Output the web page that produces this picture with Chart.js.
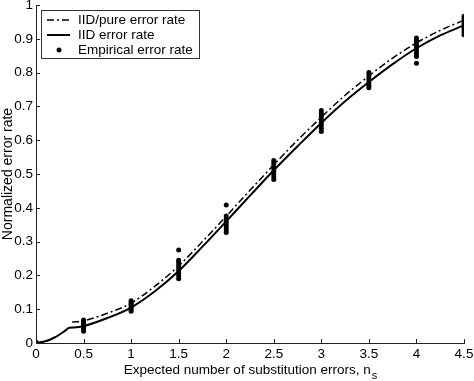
<!DOCTYPE html>
<html>
<head>
<meta charset="utf-8">
<script src="https://cdn.jsdelivr.net/npm/chart.js@4.4.1/dist/chart.umd.min.js"></script>
<style>
  html, body { margin: 0; padding: 0; background: #fff; }
  #wrap { width: 474px; height: 381px; }
</style>
</head>
<body>
<div id="wrap"><canvas id="errChart"></canvas></div>
<script>
// x positions for the two model curves
const iidX = [0, 0.1, 0.2, 0.3, 0.35, 0.4, 0.5, 0.75, 1, 1.25, 1.5, 1.75, 2, 2.25, 2.5, 2.75, 3, 3.25, 3.5, 3.75, 4, 4.25, 4.5];
const iidRate = [0, 0.005, 0.017, 0.035, 0.045, 0.046, 0.05, 0.074, 0.105, 0.153, 0.213, 0.285, 0.36, 0.436, 0.511, 0.582, 0.651, 0.715, 0.772, 0.825, 0.872, 0.91, 0.94];

const pureX = [0.38, 0.5, 0.75, 1, 1.25, 1.5, 1.75, 2, 2.25, 2.5, 2.75, 3, 3.25, 3.5, 3.75, 4, 4.25, 4.5];
const pureRate = [0.062, 0.066, 0.088, 0.118, 0.168, 0.228, 0.3, 0.375, 0.452, 0.527, 0.6, 0.668, 0.733, 0.79, 0.843, 0.888, 0.925, 0.955];

// empirical runs, grouped by expected number of errors
const empX = [0, 0.5, 1, 1.5, 2, 2.5, 3, 3.5, 4, 4.5];
const empRates = [
    [0, 0.003],
    [0.035, 0.042, 0.048, 0.053, 0.058, 0.063, 0.068],
    [0.094, 0.1, 0.105, 0.11, 0.115, 0.12, 0.125],
    [0.19, 0.198, 0.206, 0.214, 0.222, 0.23, 0.238, 0.245, 0.275],
    [0.327, 0.335, 0.343, 0.351, 0.359, 0.367, 0.376, 0.408],
    [0.484, 0.492, 0.5, 0.508, 0.516, 0.524, 0.532, 0.54],
    [0.626, 0.635, 0.644, 0.653, 0.662, 0.671, 0.68, 0.688],
    [0.755, 0.762, 0.77, 0.778, 0.785, 0.793, 0.8],
    [0.828, 0.848, 0.856, 0.864, 0.872, 0.88, 0.888, 0.895, 0.902],
    [0.912, 0.92, 0.928, 0.936, 0.944, 0.952, 0.96, 0.967]
];

const xTicks = [0, 0.5, 1, 1.5, 2, 2.5, 3, 3.5, 4, 4.5];
const yTicks = [0, 0.1, 0.2, 0.3, 0.4, 0.5, 0.6, 0.7, 0.8, 0.9, 1];

const FONT = 'Liberation Sans, Arial, Helvetica, sans-serif';
const DASHDOT = [7, 3, 2, 3];

const iidPoints = iidX.map((x, i) => ({ x: x, y: iidRate[i] }));
const purePoints = pureX.map((x, i) => ({ x: x, y: pureRate[i] }));
const empPoints = [];
empX.forEach((x, i) => {
    empRates[i].forEach(y => empPoints.push({ x: x, y: y }));
});

// inward tick marks on the left and bottom axes
const innerTicks = {
    id: 'innerTicks',
    afterDatasetsDraw(chart) {
        const { ctx, chartArea, scales } = chart;
        ctx.save();
        ctx.strokeStyle = '#222';
        ctx.lineWidth = 1;
        ctx.beginPath();
        xTicks.forEach(v => {
            const px = Math.round(scales.x.getPixelForValue(v)) + 0.5;
            ctx.moveTo(px, chartArea.bottom);
            ctx.lineTo(px, chartArea.bottom - 4);
        });
        yTicks.forEach(v => {
            const py = Math.round(scales.y.getPixelForValue(v)) + 0.5;
            ctx.moveTo(chartArea.left, py);
            ctx.lineTo(chartArea.left + 4, py);
        });
        ctx.stroke();
        ctx.restore();
    }
};

// x title with subscript, boxed legend
const extras = {
    id: 'extras',
    afterDraw(chart) {
        const { ctx, chartArea } = chart;
        ctx.save();
        ctx.fillStyle = '#000';
        ctx.textBaseline = 'alphabetic';

        // x axis title
        ctx.font = '13.5px ' + FONT;
        const main = 'Expected number of substitution errors, n';
        const w = ctx.measureText(main).width;
        ctx.font = '11px ' + FONT;
        const sw = ctx.measureText('s').width;
        const cx = (chartArea.left + chartArea.right) / 2;
        const startX = cx - (w + sw) / 2;
        ctx.font = '13.5px ' + FONT;
        ctx.textAlign = 'left';
        ctx.fillText(main, startX, 374);
        ctx.font = '11px ' + FONT;
        ctx.fillText('s', startX + w + 1, 379);

        // legend
        const bx = 41, by = 10, bw = 158, bh = 48;
        ctx.fillStyle = '#fff';
        ctx.fillRect(bx, by, bw, bh);
        ctx.strokeStyle = '#333';
        ctx.lineWidth = 1;
        ctx.strokeRect(bx + 0.5, by + 0.5, bw, bh);

        const rows = [20, 35, 50];
        ctx.strokeStyle = '#000';
        ctx.lineWidth = 1.5;
        ctx.setLineDash(DASHDOT);
        ctx.beginPath();
        ctx.moveTo(47, rows[0]);
        ctx.lineTo(70, rows[0]);
        ctx.stroke();
        ctx.setLineDash([]);
        ctx.lineWidth = 2;
        ctx.beginPath();
        ctx.moveTo(47, rows[1]);
        ctx.lineTo(70, rows[1]);
        ctx.stroke();
        ctx.fillStyle = '#000';
        ctx.beginPath();
        ctx.arc(59, rows[2], 2.5, 0, Math.PI * 2);
        ctx.fill();

        ctx.font = '13.5px ' + FONT;
        ctx.textBaseline = 'middle';
        ctx.fillText('IID/pure error rate', 78, rows[0]);
        ctx.fillText('IID error rate', 78, rows[1]);
        ctx.fillText('Empirical error rate', 78, rows[2]);
        ctx.restore();
    }
};

const ctx = document.getElementById('errChart').getContext('2d');
new Chart(ctx, {
    type: 'line',
    data: {
        datasets: [
            {
                label: 'IID/pure error rate',
                data: purePoints,
                borderColor: '#000',
                borderWidth: 1.5,
                borderDash: DASHDOT,
                pointRadius: 0,
                cubicInterpolationMode: 'monotone',
                fill: false
            },
            {
                label: 'IID error rate',
                data: iidPoints,
                borderColor: '#000',
                borderWidth: 2,
                pointRadius: 0,
                cubicInterpolationMode: 'monotone',
                fill: false
            },
            {
                label: 'Empirical error rate',
                data: empPoints,
                showLine: false,
                pointRadius: 2.5,
                pointBackgroundColor: '#000',
                pointBorderWidth: 0
            }
        ]
    },
    options: {
        responsive: true,
        maintainAspectRatio: false,
        animation: false,
        layout: { padding: { top: 5, right: 10, left: 0, bottom: 0 } },
        plugins: {
            legend: { display: false },
            tooltip: { enabled: false }
        },
        scales: {
            x: {
                type: 'linear',
                min: 0,
                max: 4.5,
                afterBuildTicks(scale) { scale.ticks = xTicks.map(v => ({ value: v })); },
                afterFit(scale) {
                    scale.height = 38;
                    scale.paddingLeft = 0;
                    scale.paddingRight = 0;
                },
                grid: { display: false, drawTicks: false },
                border: { display: true, color: '#222', width: 1 },
                ticks: {
                    color: '#000',
                    padding: 3,
                    font: { family: FONT, size: 13.5 },
                    maxRotation: 0,
                    callback: v => String(v)
                }
            },
            y: {
                min: 0,
                max: 1,
                afterBuildTicks(scale) { scale.ticks = yTicks.map(v => ({ value: v })); },
                afterFit(scale) {
                    scale.width = 36;
                    scale.paddingTop = 0;
                    scale.paddingBottom = 0;
                },
                grid: { display: false, drawTicks: false },
                border: { display: true, color: '#222', width: 1 },
                title: {
                    display: true,
                    text: 'Normalized error rate',
                    color: '#000',
                    font: { family: FONT, size: 14 },
                    padding: { top: 0, bottom: 0 }
                },
                ticks: {
                    color: '#000',
                    padding: 3,
                    font: { family: FONT, size: 13.5 },
                    callback: v => String(Math.round(v * 10) / 10)
                }
            }
        }
    },
    plugins: [innerTicks, extras]
});
</script>
</body>
</html>
